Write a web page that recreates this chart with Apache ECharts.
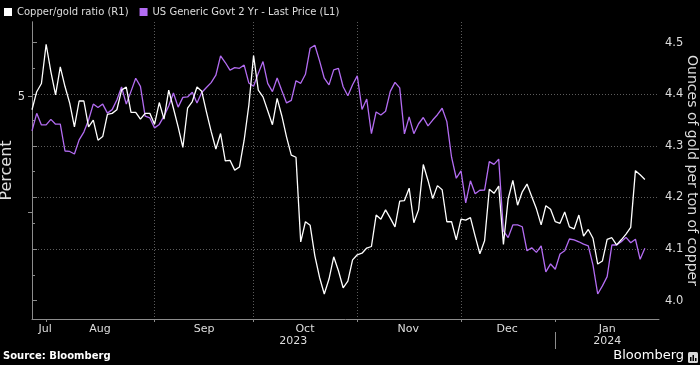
<!DOCTYPE html>
<html><head><meta charset="utf-8">
<script src="https://cdn.jsdelivr.net/npm/echarts@6/dist/echarts.min.js"></script>
<style>html,body{margin:0;padding:0;background:#000;}#c{width:700px;height:365px;}</style>
</head><body><div id="c"></div>
<script>
const ratioName = 'Copper/gold ratio (R1)';
const yieldName = 'US Generic Govt 2 Yr - Last Price (L1)';

// Copper/gold ratio, ounces of gold per ton of copper (right axis), one value per weekday
const copperGoldRatio = [
4.370,4.405,4.421,4.497,4.444,4.399,4.453,4.415,4.383,4.337,
4.387,4.387,4.337,4.350,4.311,4.318,4.361,4.363,4.370,4.408,
4.414,4.365,4.365,4.352,4.363,4.363,4.342,4.384,4.352,4.408,
4.373,4.337,4.297,4.373,4.386,4.414,4.406,4.366,4.328,4.294,
4.324,4.271,4.272,4.253,4.259,4.311,4.379,4.475,4.408,4.395,
4.368,4.341,4.392,4.358,4.317,4.282,4.278,4.114,4.153,4.146,
4.087,4.045,4.013,4.042,4.085,4.058,4.025,4.038,4.079,4.089,
4.092,4.102,4.105,4.166,4.158,4.176,4.160,4.143,4.193,4.194,
4.218,4.151,4.176,4.264,4.233,4.198,4.223,4.215,4.153,4.153,
4.118,4.158,4.156,4.161,4.125,4.091,4.116,4.216,4.208,4.222,
4.109,4.197,4.233,4.185,4.211,4.226,4.202,4.178,4.147,4.184,
4.177,4.153,4.150,4.172,4.143,4.139,4.166,4.125,4.138,4.121,
4.071,4.077,4.119,4.122,4.108,4.118,4.129,4.142,4.252,4.244,
4.235];

// US Generic Govt 2 Yr yield, percent (left axis)
const govt2y = [
4.852,4.928,4.878,4.878,4.902,4.881,4.881,4.765,4.763,4.752,
4.813,4.847,4.899,4.968,4.953,4.968,4.929,4.944,4.986,5.042,
4.968,5.023,5.080,5.045,4.916,4.908,4.865,4.880,4.916,4.960,
5.016,4.955,4.997,4.999,5.019,4.973,5.018,5.040,5.061,5.093,
5.177,5.148,5.115,5.126,5.123,5.137,5.059,5.045,5.101,5.152,
5.058,5.022,5.081,5.026,4.973,4.984,5.069,5.058,5.097,5.210,
5.223,5.155,5.080,5.051,5.116,5.123,5.043,5.004,5.052,5.090,
4.945,4.990,4.840,4.934,4.921,4.937,5.023,5.062,5.038,4.839,
4.913,4.840,4.883,4.910,4.874,4.899,4.922,4.950,4.892,4.738,
4.647,4.679,4.540,4.636,4.580,4.595,4.596,4.719,4.707,4.730,
4.419,4.390,4.445,4.445,4.437,4.333,4.346,4.326,4.354,4.242,
4.276,4.253,4.319,4.333,4.384,4.380,4.372,4.362,4.354,4.271,
4.146,4.181,4.221,4.358,4.358,4.372,4.391,4.368,4.383,4.296,
4.344];

// x axis: weekday index; month boundaries, month label centres, year labels
const monthTicks = [3, 26, 47, 69, 91, 111];
const monthLabelPos = [2.8, 14.4, 36.5, 57.9, 79.8, 100.8, 122];
const monthNames = ['Jul', 'Aug', 'Sep', 'Oct', 'Nov', 'Dec', 'Jan'];
const yearLabelPos = [55.4, 122];
const yearNames = ['2023', '2024'];
const yearBreaks = [111];

// y axes ticks
const rightTicks = [4.0, 4.1, 4.2, 4.3, 4.4, 4.5];
const rightMinorTicks = [4.05, 4.15, 4.25, 4.35, 4.45];
const leftTicks = [4.5, 5];
const leftLabels = [5];

const FONT = 'DejaVu Sans';
const WHITE = '#ffffff';
const PURPLE = '#b36cf2';
const GRID = '#5c5c5c';
const AXIS = '#8c8c8c';
const TXT = '#dedede';

function pick(pos, names) {
  return function (v) {
    let b = 0;
    for (let i = 1; i < pos.length; i++) if (Math.abs(pos[i] - v) < Math.abs(pos[b] - v)) b = i;
    return names[b];
  };
}

const chart = echarts.init(document.getElementById('c'), null, {renderer: 'canvas'});
chart.setOption({
  backgroundColor: '#000',
  animation: false,
  textStyle: {fontFamily: FONT},
  legend: {
    left: 4, top: 7, padding: 0, itemWidth: 8, itemHeight: 8, itemGap: 11, icon: 'rect',
    textStyle: {color: TXT, fontSize: 10, fontFamily: FONT},
    data: [ratioName, yieldName]
  },
  grid: {left: 32, right: 41, top: 22, bottom: 46, containLabel: false, outerBoundsMode: 'none'},
  xAxis: [
    {type: 'value', min: 0, max: 133, position: 'bottom',
     axisLine: {show: true, lineStyle: {color: AXIS}},
     axisTick: {show: true, customValues: monthTicks, length: 3, lineStyle: {color: AXIS}},
     axisLabel: {show: false},
     splitLine: {show: true, showMinLine: false, showMaxLine: false, lineStyle: {color: GRID, type: [1, 2]}}},
    {type: 'value', min: 0, max: 133, position: 'bottom',
     axisLine: {show: false}, axisTick: {show: false}, splitLine: {show: false},
     axisLabel: {customValues: monthLabelPos, formatter: pick(monthLabelPos, monthNames), color: TXT, fontSize: 11, margin: 5, fontFamily: FONT}},
    {type: 'value', min: 0, max: 133, position: 'bottom', offset: 13,
     axisLine: {show: false}, splitLine: {show: false},
     axisTick: {show: true, customValues: yearBreaks, length: 17, lineStyle: {color: AXIS}},
     axisLabel: {customValues: yearLabelPos, formatter: pick(yearLabelPos, yearNames), color: TXT, fontSize: 11, margin: 4, fontFamily: FONT}}
  ],
  yAxis: [
    {type: 'value', position: 'left', min: 4.0377, max: 5.3234,
     name: 'Percent', nameLocation: 'middle', nameGap: 17, nameMoveOverlap: false,
     nameTextStyle: {color: TXT, fontSize: 16, fontFamily: FONT},
     axisLine: {show: true, lineStyle: {color: AXIS}},
     axisTick: {show: true, customValues: leftTicks, length: 4, lineStyle: {color: AXIS}},
     axisLabel: {customValues: leftLabels, color: TXT, fontSize: 11.5, margin: 7, fontFamily: FONT},
     splitLine: {show: false}},
    {type: 'value', position: 'right', min: 3.9645, max: 4.5401,
     name: 'Ounces of gold per ton of copper', nameLocation: 'middle', nameRotate: -90, nameGap: 26, nameMoveOverlap: false,
     nameTextStyle: {color: TXT, fontSize: 14, fontFamily: FONT},
     axisLine: {show: true, lineStyle: {color: AXIS}},
     axisTick: {show: true, customValues: rightTicks, length: 5, lineStyle: {color: AXIS}},
     axisLabel: {customValues: rightTicks, formatter: v => v.toFixed(1), color: TXT, fontSize: 11.5, margin: 6, fontFamily: FONT},
     splitLine: {show: true, showMinLine: false, showMaxLine: false, lineStyle: {color: GRID, type: [1, 2]}}},
    {type: 'value', position: 'right', min: 3.9645, max: 4.5401,
     axisLine: {show: false}, axisLabel: {show: false}, splitLine: {show: false},
     axisTick: {show: true, customValues: rightMinorTicks, length: 3, lineStyle: {color: AXIS}}}
  ],
  series: [
    {name: yieldName, type: 'line', xAxisIndex: 0, yAxisIndex: 0,
     data: govt2y.map((v, i) => [i, v]), symbol: 'none', showSymbol: false,
     lineStyle: {color: PURPLE, width: 1.3}, itemStyle: {color: PURPLE}},
    {name: ratioName, type: 'line', xAxisIndex: 0, yAxisIndex: 1,
     data: copperGoldRatio.map((v, i) => [i, v]), symbol: 'none', showSymbol: false,
     lineStyle: {color: WHITE, width: 1.3}, itemStyle: {color: WHITE}}
  ],
  graphic: [
    {type: 'text', left: 3, top: 351, style: {text: 'Source: Bloomberg', fill: '#ffffff', font: 'bold 10px "DejaVu Sans"'}},
    {type: 'text', right: 16, top: 349, style: {text: 'Bloomberg', fill: '#ffffff', font: '13px "DejaVu Sans"'}},
    {type: 'group', right: 2, top: 352, children: [
      {type: 'rect', shape: {x: 0, y: 0, width: 10, height: 11, r: 1.5}, style: {fill: '#d8d8d8'}},
      {type: 'rect', shape: {x: 2, y: 5, width: 1.5, height: 4}, style: {fill: '#000'}},
      {type: 'rect', shape: {x: 4.5, y: 3, width: 1.5, height: 6}, style: {fill: '#000'}},
      {type: 'rect', shape: {x: 7, y: 6, width: 1.5, height: 3}, style: {fill: '#000'}}
    ]}
  ]
});
</script>
</body></html>
